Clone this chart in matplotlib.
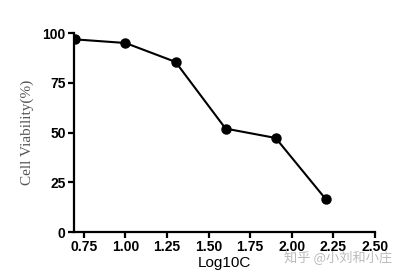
import matplotlib.pyplot as plt

log_conc = [0.699, 1.000, 1.301, 1.602, 1.903, 2.204]
viability = [96.8, 95.0, 85.5, 52.0, 47.3, 16.6]
x_ticks = [0.75, 1.00, 1.25, 1.50, 1.75, 2.00, 2.25, 2.50]
y_ticks = [0, 25, 50, 75, 100]

fig = plt.figure(figsize=(4.04, 2.8), dpi=100)
ax = fig.add_axes([0.183, 0.171, 0.745, 0.711])

ax.plot(log_conc, viability, color="black", lw=1.5, marker="o", ms=6.5)

ax.set_xlim(0.69, 2.5)
ax.set_ylim(0, 100)
ax.set_xticks(x_ticks)
ax.set_xticklabels(["%.2f" % v for v in x_ticks])
ax.set_yticks(y_ticks)

for s in ["top", "right"]:
    ax.spines[s].set_visible(False)
for s in ["left", "bottom"]:
    ax.spines[s].set_linewidth(1.6)
ax.tick_params(width=1.6, length=4, pad=2)
for lab in ax.get_xticklabels() + ax.get_yticklabels():
    lab.set_family("Liberation Sans")
    lab.set_fontweight("bold")
    lab.set_fontsize(10)

ax.set_xlabel("Log10C", family="Liberation Sans", fontsize=11, labelpad=1)
ax.set_ylabel("Cell Viability(%)", family="Liberation Serif", fontsize=11,
              color="#555555", labelpad=6)

fig.text(0.97, 0.08, "知乎 @小刘和小庄", ha="right", va="center",
         family=["Noto Sans CJK SC", "DejaVu Sans"], fontsize=9.5,
         color="#bbbbbb")

fig.savefig("out.png", dpi=100)
